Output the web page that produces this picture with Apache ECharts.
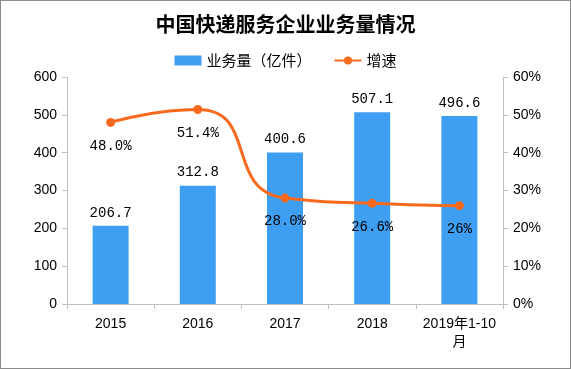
<!DOCTYPE html>
<html><head><meta charset="utf-8">
<script src="https://cdn.jsdelivr.net/npm/echarts@6/dist/echarts.min.js"></script>
<style>
html,body{margin:0;padding:0;background:#fff;}
#c{width:571px;height:369px;box-sizing:border-box;border:1px solid #8c8c8c;}
</style></head>
<body><div id="c"></div>
<script>
const categories = ['2015','2016','2017','2018','2019年1-10\n月'];
const volume = [206.7, 312.8, 400.6, 507.1, 496.6];
const growth = [48.0, 51.4, 28.0, 26.6, 26];
const growthLabels = ['48.0%','51.4%','28.0%','26.6%','26%'];

const chart = echarts.init(document.getElementById('c'), null, {renderer:'canvas'});
const axisColor = '#bfbfbf';
const tickFont = {color:'#000', fontSize:14, fontFamily:'"Liberation Sans","Noto Sans CJK SC",sans-serif'};
const labFont = {color:'#000', fontSize:14, fontFamily:'"Liberation Mono","Noto Sans CJK SC",monospace'};
chart.setOption({
  animation:false,
  title:{text:'中国快递服务企业业务量情况', left:'center', top:8,
    textStyle:{fontSize:20, fontWeight:'bold', color:'#000', fontFamily:'"Noto Sans CJK SC",sans-serif'}},
  legend:{top:47, left:'center', itemGap:22, itemWidth:27, itemHeight:10,
    textStyle:{fontSize:15, color:'#000', fontFamily:'"Noto Sans CJK SC",sans-serif'},
    data:[{name:'业务量（亿件）', icon:'rect'},{name:'增速'}]},
  grid:{left:66, right:67, top:76, bottom:64, containLabel:false},
  xAxis:{type:'category', data:categories,
    axisLine:{lineStyle:{color:axisColor}},
    axisTick:{show:true, length:5, lineStyle:{color:axisColor}},
    axisLabel:Object.assign({margin:11, interval:0, lineHeight:18}, tickFont)},
  yAxis:[
    {type:'value', min:0, max:600, interval:100,
      axisLine:{show:true, lineStyle:{color:axisColor}},
      axisTick:{show:true, length:5, lineStyle:{color:axisColor}},
      splitLine:{show:false},
      axisLabel:Object.assign({margin:10}, tickFont)},
    {type:'value', min:0, max:60, interval:10,
      axisLine:{show:true, lineStyle:{color:axisColor}},
      axisTick:{show:true, length:5, lineStyle:{color:axisColor}},
      splitLine:{show:false},
      axisLabel:Object.assign({margin:10, formatter:'{value}%'}, tickFont)}
  ],
  series:[
    {name:'业务量（亿件）', type:'bar', data:volume, barWidth:36,
      itemStyle:{color:'#3e9ef2'},
      label:Object.assign({show:true, position:'top', distance:6}, labFont)},
    {name:'增速', type:'line', yAxisIndex:1, data:growth, smooth:0.6,
      symbol:'circle', symbolSize:9,
      lineStyle:{color:'#f96a1e', width:3},
      itemStyle:{color:'#f96a1e'},
      label:Object.assign({show:true, position:'bottom', distance:12,
        formatter:p=>growthLabels[p.dataIndex]}, labFont)}
  ]
});
</script></body></html>
